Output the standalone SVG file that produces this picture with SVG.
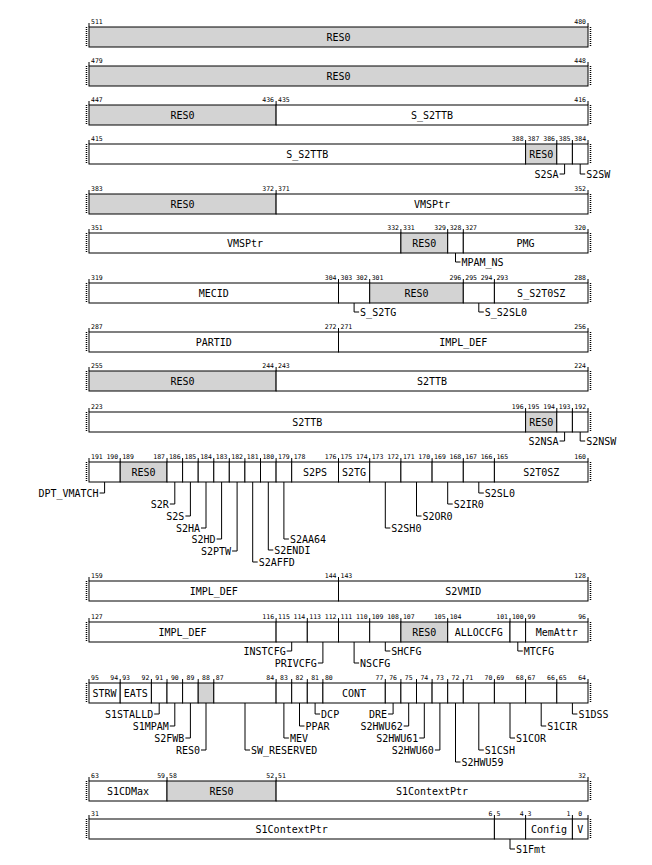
<svg xmlns="http://www.w3.org/2000/svg" width="652" height="865" viewBox="0 0 652 865">
<style>
rect{fill:#fff;stroke:#000;stroke-width:1}
rect.g{fill:#d3d3d3}
text{font-family:"DejaVu Sans Mono","Liberation Mono",monospace;fill:#000}
.t{font-size:10px;text-anchor:middle}
.n{font-size:6.5px}
.e{text-anchor:end}
.m{text-anchor:middle}
.l{font-size:10px;text-anchor:end}
.r{font-size:10px}
path{fill:none;stroke:#000;stroke-width:1}
.d{stroke-dasharray:1,1;stroke-width:1.5}
</style>
<rect x="0" y="0" width="652" height="865" style="stroke:none;fill:#fff"/>
<!-- Row 1 -->
<g id="row511">
<rect class="g" x="89" y="27" width="499" height="20"/><text class="t" x="338.5" y="41">RES0</text>
<text class="n" x="91" y="24">511</text><text class="n e" x="586" y="24">480</text>
<path d="M89 23V27M588 23V27"/><path class="d" d="M86.5 27V47M590.5 27V47"/>
</g>
<g id="row479">
<rect class="g" x="89" y="66" width="499" height="20"/><text class="t" x="338.5" y="80">RES0</text>
<text class="n" x="91" y="63">479</text><text class="n e" x="586" y="63">448</text>
<path d="M89 62V66M588 62V66"/><path class="d" d="M86.5 66V86M590.5 66V86"/>
</g>
<g id="row447">
<rect class="g" x="89" y="105" width="187.1" height="20"/><text class="t" x="182.5" y="119">RES0</text>
<rect x="276.1" y="105" width="311.9" height="20"/><text class="t" x="432" y="119">S_S2TTB</text>
<text class="n" x="91" y="102">447</text><text class="n e" x="274" y="102">436</text><text class="n" x="278" y="102">435</text><text class="n e" x="586" y="102">416</text>
<path d="M89 101V105M276.1 101V105M588 101V105"/><path class="d" d="M86.5 105V125M590.5 105V125"/>
</g>
<g id="row415">
<rect x="89" y="144" width="436.6" height="20"/><text class="t" x="307.3" y="158">S_S2TTB</text>
<rect class="g" x="525.6" y="144" width="31.2" height="20"/><text class="t" x="541.2" y="158">RES0</text>
<rect x="556.8" y="144" width="15.6" height="20"/><rect x="572.4" y="144" width="15.6" height="20"/>
<text class="n" x="91" y="141">415</text><text class="n e" x="523.6" y="141">388</text><text class="n" x="527.6" y="141">387</text><text class="n e" x="555" y="141">386</text><text class="n m" x="564.6" y="141">385</text><text class="n m" x="580.2" y="141">384</text>
<path d="M89 140V144M525.6 140V144M556.8 140V144M572.4 140V144M588 140V144"/><path class="d" d="M86.5 144V164M590.5 144V164"/>
<path d="M564.6 164V174H559.6M580.2 164V174H585.2"/>
<text class="l" x="558.6" y="178">S2SA</text><text class="r" x="586.2" y="178">S2SW</text>
</g>
<g id="row383">
<rect class="g" x="89" y="194" width="187.1" height="20"/><text class="t" x="182.5" y="208">RES0</text>
<rect x="276.1" y="194" width="311.9" height="20"/><text class="t" x="432" y="208">VMSPtr</text>
<text class="n" x="91" y="191">383</text><text class="n e" x="274" y="191">372</text><text class="n" x="278" y="191">371</text><text class="n e" x="586" y="191">352</text>
<path d="M89 190V194M276.1 190V194M588 190V194"/><path class="d" d="M86.5 194V214M590.5 194V214"/>
</g>
<g id="row351">
<rect x="89" y="233" width="311.9" height="20"/><text class="t" x="245" y="247">VMSPtr</text>
<rect class="g" x="400.9" y="233" width="46.8" height="20"/><text class="t" x="424.3" y="247">RES0</text>
<rect x="447.7" y="233" width="15.6" height="20"/>
<rect x="463.3" y="233" width="124.7" height="20"/><text class="t" x="525.6" y="247">PMG</text>
<text class="n" x="91" y="230">351</text><text class="n e" x="399" y="230">332</text><text class="n" x="403" y="230">331</text><text class="n e" x="446" y="230">329</text><text class="n m" x="455.5" y="230">328</text><text class="n" x="465.3" y="230">327</text><text class="n e" x="586" y="230">320</text>
<path d="M89 229V233M400.9 229V233M447.7 229V233M463.3 229V233M588 229V233"/><path class="d" d="M86.5 233V253M590.5 233V253"/>
<path d="M455.5 253V262H460.5"/><text class="r" x="461.5" y="266">MPAM_NS</text>
</g>
<g id="row319">
<rect x="89" y="283" width="249.5" height="20"/><text class="t" x="213.8" y="297">MECID</text>
<rect x="338.5" y="283" width="31.2" height="20"/>
<rect class="g" x="369.7" y="283" width="93.6" height="20"/><text class="t" x="416.5" y="297">RES0</text>
<rect x="463.3" y="283" width="31.1" height="20"/>
<rect x="494.4" y="283" width="93.6" height="20"/><text class="t" x="541.2" y="297">S_S2T0SZ</text>
<text class="n" x="91" y="280">319</text><text class="n e" x="336.5" y="280">304</text><text class="n" x="340.5" y="280">303</text><text class="n e" x="367.7" y="280">302</text><text class="n" x="371.7" y="280">301</text><text class="n e" x="461.3" y="280">296</text><text class="n" x="465.3" y="280">295</text><text class="n e" x="492.4" y="280">294</text><text class="n" x="496.4" y="280">293</text><text class="n e" x="586" y="280">288</text>
<path d="M89 279V283M338.5 279V283M369.7 279V283M463.3 279V283M494.4 279V283M588 279V283"/><path class="d" d="M86.5 283V303M590.5 283V303"/>
<path d="M354.1 303V312H359.1M478.8 303V312H483.8"/>
<text class="r" x="360.1" y="316">S_S2TG</text><text class="r" x="484.8" y="316">S_S2SL0</text>
</g>
<g id="row287">
<rect x="89" y="332" width="249.5" height="20"/><text class="t" x="213.8" y="346">PARTID</text>
<rect x="338.5" y="332" width="249.5" height="20"/><text class="t" x="463.3" y="346">IMPL_DEF</text>
<text class="n" x="91" y="329">287</text><text class="n e" x="336.5" y="329">272</text><text class="n" x="340.5" y="329">271</text><text class="n e" x="586" y="329">256</text>
<path d="M89 328V332M338.5 328V332M588 328V332"/><path class="d" d="M86.5 332V352M590.5 332V352"/>
</g>
<g id="row255">
<rect class="g" x="89" y="371" width="187.1" height="20"/><text class="t" x="182.5" y="385">RES0</text>
<rect x="276.1" y="371" width="311.9" height="20"/><text class="t" x="432" y="385">S2TTB</text>
<text class="n" x="91" y="368">255</text><text class="n e" x="274" y="368">244</text><text class="n" x="278" y="368">243</text><text class="n e" x="586" y="368">224</text>
<path d="M89 367V371M276.1 367V371M588 367V371"/><path class="d" d="M86.5 371V391M590.5 371V391"/>
</g>
<g id="row223">
<rect x="89" y="412" width="436.6" height="20"/><text class="t" x="307.3" y="426">S2TTB</text>
<rect class="g" x="525.6" y="412" width="31.2" height="20"/><text class="t" x="541.2" y="426">RES0</text>
<rect x="556.8" y="412" width="15.6" height="20"/><rect x="572.4" y="412" width="15.6" height="20"/>
<text class="n" x="91" y="409">223</text><text class="n e" x="523.6" y="409">196</text><text class="n" x="527.6" y="409">195</text><text class="n e" x="555" y="409">194</text><text class="n m" x="564.6" y="409">193</text><text class="n m" x="580.2" y="409">192</text>
<path d="M89 408V412M525.6 408V412M556.8 408V412M572.4 408V412M588 408V412"/><path class="d" d="M86.5 412V432M590.5 412V432"/>
<path d="M564.6 432V441H559.6M580.2 432V441H585.2"/>
<text class="l" x="558.6" y="445">S2NSA</text><text class="r" x="586.2" y="445">S2NSW</text>
</g>
<g id="row191">
<rect x="89" y="462" width="31.2" height="20"/>
<rect class="g" x="120.2" y="462" width="46.8" height="20"/><text class="t" x="143.6" y="476">RES0</text>
<rect x="167" y="462" width="15.6" height="20"/><rect x="182.6" y="462" width="15.6" height="20"/><rect x="198.2" y="462" width="15.6" height="20"/><rect x="213.8" y="462" width="15.5" height="20"/><rect x="229.3" y="462" width="15.6" height="20"/><rect x="244.9" y="462" width="15.6" height="20"/><rect x="260.5" y="462" width="15.6" height="20"/><rect x="276.1" y="462" width="15.6" height="20"/>
<rect x="291.7" y="462" width="46.8" height="20"/><text class="t" x="315.1" y="476">S2PS</text>
<rect x="338.5" y="462" width="31.2" height="20"/><text class="t" x="354.1" y="476">S2TG</text>
<rect x="369.7" y="462" width="31.2" height="20"/><rect x="400.9" y="462" width="31.2" height="20"/><rect x="432.1" y="462" width="31.2" height="20"/><rect x="463.3" y="462" width="31.1" height="20"/>
<rect x="494.4" y="462" width="93.6" height="20"/><text class="t" x="541.2" y="476">S2T0SZ</text>
<g class="n">
<text x="91" y="459">191</text><text class="e" x="118.2" y="459">190</text><text x="122.2" y="459">189</text><text class="e" x="165" y="459">187</text>
<text class="m" x="174.8" y="459">186</text><text class="m" x="190.4" y="459">185</text><text class="m" x="206" y="459">184</text><text class="m" x="221.6" y="459">183</text><text class="m" x="237.1" y="459">182</text><text class="m" x="252.7" y="459">181</text><text class="m" x="268.3" y="459">180</text><text class="m" x="283.9" y="459">179</text>
<text x="293.7" y="459">178</text><text class="e" x="336.5" y="459">176</text><text x="340.5" y="459">175</text><text class="e" x="367.7" y="459">174</text>
<text x="371.7" y="459">173</text><text class="e" x="398.9" y="459">172</text><text x="402.9" y="459">171</text><text class="e" x="430.1" y="459">170</text><text x="434.1" y="459">169</text><text class="e" x="461.3" y="459">168</text><text x="465.3" y="459">167</text><text class="e" x="492.4" y="459">166</text><text x="496.4" y="459">165</text><text class="e" x="586" y="459">160</text>
</g>
<path d="M89 458V462M120.2 458V462M167 458V462M182.6 458V462M198.2 458V462M213.8 458V462M229.3 458V462M244.9 458V462M260.5 458V462M276.1 458V462M291.7 458V462M338.5 458V462M369.7 458V462M400.9 458V462M432.1 458V462M463.3 458V462M494.4 458V462M588 458V462"/>
<path class="d" d="M86.5 462V482M590.5 462V482"/>
<path d="M104.6 482V493H99.6M174.8 482V504H169.8M190.4 482V516H185.4M206 482V528H201M221.6 482V539H216.6M237.1 482V551H232.1M252.7 482V562H257.7M268.3 482V550H273.3M283.9 482V539H288.9M385.3 482V528H390.3M416.5 482V516H421.5M447.7 482V504H452.7M478.8 482V493H483.8"/>
<text class="l" x="98.6" y="497">DPT_VMATCH</text><text class="l" x="168.8" y="508">S2R</text><text class="l" x="184.4" y="520">S2S</text><text class="l" x="200" y="532">S2HA</text><text class="l" x="215.6" y="543">S2HD</text><text class="l" x="231.1" y="555">S2PTW</text>
<text class="r" x="258.7" y="566">S2AFFD</text><text class="r" x="274.3" y="554">S2ENDI</text><text class="r" x="289.9" y="543">S2AA64</text>
<text class="r" x="391.3" y="532">S2SH0</text><text class="r" x="422.5" y="520">S2OR0</text><text class="r" x="453.7" y="508">S2IR0</text><text class="r" x="484.8" y="497">S2SL0</text>
</g>
<g id="row159">
<rect x="89" y="581" width="249.5" height="20"/><text class="t" x="213.8" y="595">IMPL_DEF</text>
<rect x="338.5" y="581" width="249.5" height="20"/><text class="t" x="463.3" y="595">S2VMID</text>
<text class="n" x="91" y="578">159</text><text class="n e" x="336.5" y="578">144</text><text class="n" x="340.5" y="578">143</text><text class="n e" x="586" y="578">128</text>
<path d="M89 577V581M338.5 577V581M588 577V581"/><path class="d" d="M86.5 581V601M590.5 581V601"/>
</g>
<g id="row127">
<rect x="89" y="622" width="187.1" height="20"/><text class="t" x="182.5" y="636">IMPL_DEF</text>
<rect x="276.1" y="622" width="31.2" height="20"/><rect x="307.3" y="622" width="31.2" height="20"/><rect x="338.5" y="622" width="31.2" height="20"/><rect x="369.7" y="622" width="31.2" height="20"/>
<rect class="g" x="400.9" y="622" width="46.8" height="20"/><text class="t" x="424.3" y="636">RES0</text>
<rect x="447.7" y="622" width="62.3" height="20"/><text class="t" x="478.8" y="636">ALLOCCFG</text>
<rect x="510" y="622" width="15.6" height="20"/>
<rect x="525.6" y="622" width="62.4" height="20"/><text class="t" x="556.8" y="636">MemAttr</text>
<g class="n">
<text x="91" y="619">127</text><text class="e" x="274.1" y="619">116</text><text x="278.1" y="619">115</text><text class="e" x="305.3" y="619">114</text><text x="309.3" y="619">113</text><text class="e" x="336.5" y="619">112</text><text x="340.5" y="619">111</text><text class="e" x="367.7" y="619">110</text><text x="371.7" y="619">109</text><text class="e" x="398.9" y="619">108</text><text x="402.9" y="619">107</text><text class="e" x="445.7" y="619">105</text><text x="449.7" y="619">104</text><text class="e" x="508" y="619">101</text><text class="m" x="517.8" y="619">100</text><text x="527.6" y="619">99</text><text class="e" x="586" y="619">96</text>
</g>
<path d="M89 618V622M276.1 618V622M307.3 618V622M338.5 618V622M369.7 618V622M400.9 618V622M447.7 618V622M510 618V622M525.6 618V622M588 618V622"/><path class="d" d="M86.5 622V642M590.5 622V642"/>
<path d="M291.7 642V651H286.7M322.9 642V663H317.9M354.1 642V663H359.1M385.3 642V651H390.3M517.8 642V651H522.8"/>
<text class="l" x="285.7" y="655">INSTCFG</text><text class="l" x="316.9" y="667">PRIVCFG</text><text class="r" x="360.1" y="667">NSCFG</text><text class="r" x="391.3" y="655">SHCFG</text><text class="r" x="523.8" y="655">MTCFG</text>
</g>
<g id="row95">
<rect x="89" y="683" width="31.2" height="20"/><text class="t" x="104.6" y="697">STRW</text>
<rect x="120.2" y="683" width="31.2" height="20"/><text class="t" x="135.8" y="697">EATS</text>
<rect x="151.4" y="683" width="15.6" height="20"/><rect x="167" y="683" width="15.6" height="20"/><rect x="182.6" y="683" width="15.6" height="20"/><rect class="g" x="198.2" y="683" width="15.6" height="20"/>
<rect x="213.8" y="683" width="62.3" height="20"/><rect x="276.1" y="683" width="15.6" height="20"/><rect x="291.7" y="683" width="15.6" height="20"/><rect x="307.3" y="683" width="15.6" height="20"/>
<rect x="322.9" y="683" width="62.4" height="20"/><text class="t" x="354.1" y="697">CONT</text>
<rect x="385.3" y="683" width="15.6" height="20"/><rect x="400.9" y="683" width="15.6" height="20"/><rect x="416.5" y="683" width="15.6" height="20"/><rect x="432.1" y="683" width="15.6" height="20"/><rect x="447.7" y="683" width="15.6" height="20"/>
<rect x="463.3" y="683" width="31.1" height="20"/><rect x="494.4" y="683" width="31.2" height="20"/><rect x="525.6" y="683" width="31.2" height="20"/><rect x="556.8" y="683" width="31.2" height="20"/>
<g class="n">
<text x="91" y="680">95</text><text class="e" x="118.2" y="680">94</text><text x="122.2" y="680">93</text><text class="e" x="149.4" y="680">92</text>
<text class="m" x="159.2" y="680">91</text><text class="m" x="174.8" y="680">90</text><text class="m" x="190.4" y="680">89</text><text class="m" x="206" y="680">88</text>
<text x="215.8" y="680">87</text><text class="e" x="274.1" y="680">84</text><text class="m" x="283.9" y="680">83</text><text class="m" x="299.5" y="680">82</text><text class="m" x="315.1" y="680">81</text>
<text x="324.9" y="680">80</text><text class="e" x="383.3" y="680">77</text>
<text class="m" x="393.1" y="680">76</text><text class="m" x="408.7" y="680">75</text><text class="m" x="424.3" y="680">74</text><text class="m" x="439.9" y="680">73</text><text class="m" x="455.5" y="680">72</text>
<text x="465.3" y="680">71</text><text class="e" x="492.4" y="680">70</text><text x="496.4" y="680">69</text><text class="e" x="523.6" y="680">68</text><text x="527.6" y="680">67</text><text class="e" x="554.8" y="680">66</text><text x="558.8" y="680">65</text><text class="e" x="586" y="680">64</text>
</g>
<path d="M89 679V683M120.2 679V683M151.4 679V683M167 679V683M182.6 679V683M198.2 679V683M213.8 679V683M276.1 679V683M291.7 679V683M307.3 679V683M322.9 679V683M385.3 679V683M400.9 679V683M416.5 679V683M432.1 679V683M447.7 679V683M463.3 679V683M494.4 679V683M525.6 679V683M556.8 679V683M588 679V683"/>
<path class="d" d="M86.5 683V703M590.5 683V703"/>
<path d="M159.2 703V714H154.2M174.8 703V726H169.8M190.4 703V738H185.4M206 703V750H201M245 703V750H250M283.9 703V738H288.9M299.5 703V726H304.5M315.1 703V714H320.1M393.1 703V714H388.1M408.7 703V726H403.7M424.3 703V738H419.3M439.9 703V750H434.9M455.5 703V762H460.5M478.8 703V750H483.8M510 703V738H515M541.2 703V726H546.2M572.4 703V714H577.4"/>
<text class="l" x="153.2" y="718">S1STALLD</text><text class="l" x="168.8" y="730">S1MPAM</text><text class="l" x="184.4" y="742">S2FWB</text><text class="l" x="200" y="754">RES0</text>
<text class="r" x="251" y="754">SW_RESERVED</text><text class="r" x="289.9" y="742">MEV</text><text class="r" x="305.5" y="730">PPAR</text><text class="r" x="321.1" y="718">DCP</text>
<text class="l" x="387.1" y="718">DRE</text><text class="l" x="402.7" y="730">S2HWU62</text><text class="l" x="418.3" y="742">S2HWU61</text><text class="l" x="433.9" y="754">S2HWU60</text>
<text class="r" x="461.5" y="766">S2HWU59</text><text class="r" x="484.8" y="754">S1CSH</text><text class="r" x="516" y="742">S1COR</text><text class="r" x="547.2" y="730">S1CIR</text><text class="r" x="578.4" y="718">S1DSS</text>
</g>
<g id="row63">
<rect x="89" y="781" width="78" height="20"/><text class="t" x="128" y="795">S1CDMax</text>
<rect class="g" x="167" y="781" width="109.1" height="20"/><text class="t" x="221.6" y="795">RES0</text>
<rect x="276.1" y="781" width="311.9" height="20"/><text class="t" x="432" y="795">S1ContextPtr</text>
<text class="n" x="91" y="778">63</text><text class="n e" x="165" y="778">59</text><text class="n" x="169" y="778">58</text><text class="n e" x="274.1" y="778">52</text><text class="n" x="278.1" y="778">51</text><text class="n e" x="586" y="778">32</text>
<path d="M89 777V781M167 777V781M276.1 777V781M588 777V781"/><path class="d" d="M86.5 781V801M590.5 781V801"/>
</g>
<g id="row31">
<rect x="89" y="819" width="405.4" height="20"/><text class="t" x="291.7" y="833">S1ContextPtr</text>
<rect x="494.4" y="819" width="31.2" height="20"/>
<rect x="525.6" y="819" width="46.8" height="20"/><text class="t" x="549" y="833">Config</text>
<rect x="572.4" y="819" width="15.6" height="20"/><text class="t" x="580.2" y="833">V</text>
<text class="n" x="91" y="816">31</text><text class="n e" x="492.4" y="816">6</text><text class="n" x="496.4" y="816">5</text><text class="n e" x="523.6" y="816">4</text><text class="n" x="527.6" y="816">3</text><text class="n e" x="570.4" y="816">1</text><text class="n m" x="580.2" y="816">0</text>
<path d="M89 815V819M494.4 815V819M525.6 815V819M572.4 815V819M588 815V819"/><path class="d" d="M86.5 819V839M590.5 819V839"/>
<path d="M510 839V849H515"/><text class="r" x="516" y="853">S1Fmt</text>
</g>
</svg>
